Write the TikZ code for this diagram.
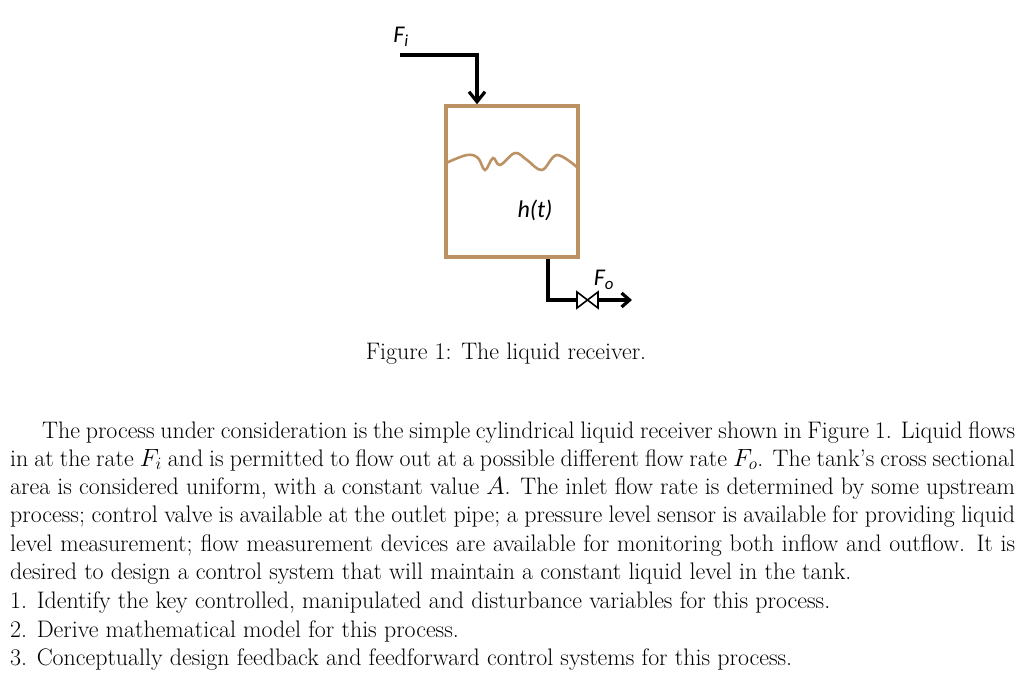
\documentclass[tikz,border=0pt]{standalone}
\usepackage{fontspec}
\newfontfamily\sfc{Carlito}
\usetikzlibrary{arrows.meta}
\definecolor{tankc}{RGB}{188,146,100}
\begin{document}
\begin{tikzpicture}[x=1pt,y=-1pt,
  pipe/.style={line width=3.2pt},
  tk/.style={draw=tankc,line width=3.4pt},
  lab/.style={font=\sfc\itshape\fontsize{24}{28}\selectfont,inner sep=0pt},
  ln/.style={anchor=base west,inner sep=0pt,font=\fontsize{23.9}{28.5}\selectfont}]
\useasboundingbox (0,0) rectangle (1024,681);
\node[tk,minimum width=132pt,minimum height=151pt,inner sep=0pt] (tank) at (512,181.5) {};
\draw[tankc,line width=2.6pt] plot[smooth,tension=0.6] coordinates {(446,163) (467,155) (478,158) (485,170) (493,158) (500,165) (515,153) (527,160) (542,170) (557,155) (578,168)};
\node[lab] (h) at (535,210) {h(t)};
\coordinate (in0) at (400,55);
\coordinate (in1) at (477,55);
\node[lab] (fi) at (401,37) {F\textsubscript{i}};
\draw[pipe,-{Straight Barb[length=10pt,width=16pt]}] (in0) -- (in1) -- (tank.north -| in1);
\coordinate (o1) at (548,300);
\coordinate (o2) at (577,300);
\coordinate (o3) at (598,300);
\coordinate (oe) at (632,300);
\node[lab] (fo) at (604,280) {F\textsubscript{o}};
\draw[pipe] (tank.south -| o1) -- (o1) -- (o2);
\draw[line width=1.6pt] (577,292) -- (598,308) -- (598,292) -- (577,308) -- cycle;
\draw[pipe,-{Straight Barb[length=8pt,width=14pt]}] (o3) -- (oe);
\node[ln,anchor=base] (cap) at (506,359) {Figure 1: The liquid receiver.};
\node[ln] (l1) at (42,438) {\makebox[973pt][s]{The process under consideration is the simple cylindrical liquid receiver shown in Figure 1. Liquid flows}};
\node[ln] (l2) at (10,466) {\makebox[1005pt][s]{in at the rate $F_i$ and is permitted to flow out at a possible different flow rate $F_o$. The tank's cross sectional}};
\node[ln] (l3) at (10,494) {\makebox[1005pt][s]{area is considered uniform, with a constant value $A$. The inlet flow rate is determined by some upstream}};
\node[ln] (l4) at (10,522) {\makebox[1005pt][s]{process; control valve is available at the outlet pipe; a pressure level sensor is available for providing liquid}};
\node[ln] (l5) at (10,551) {\makebox[1005pt][s]{level measurement; flow measurement devices are available for monitoring both inflow and outflow. It is}};
\node[ln] (l6) at (10,579) {desired to design a control system that will maintain a constant liquid level in the tank.};
\node[ln] (l7) at (10,608) {1. Identify the key controlled, manipulated and disturbance variables for this process.};
\node[ln] (l8) at (10,637) {2. Derive mathematical model for this process.};
\node[ln] (l9) at (10,665) {3. Conceptually design feedback and feedforward control systems for this process.};
\end{tikzpicture}
\end{document}
